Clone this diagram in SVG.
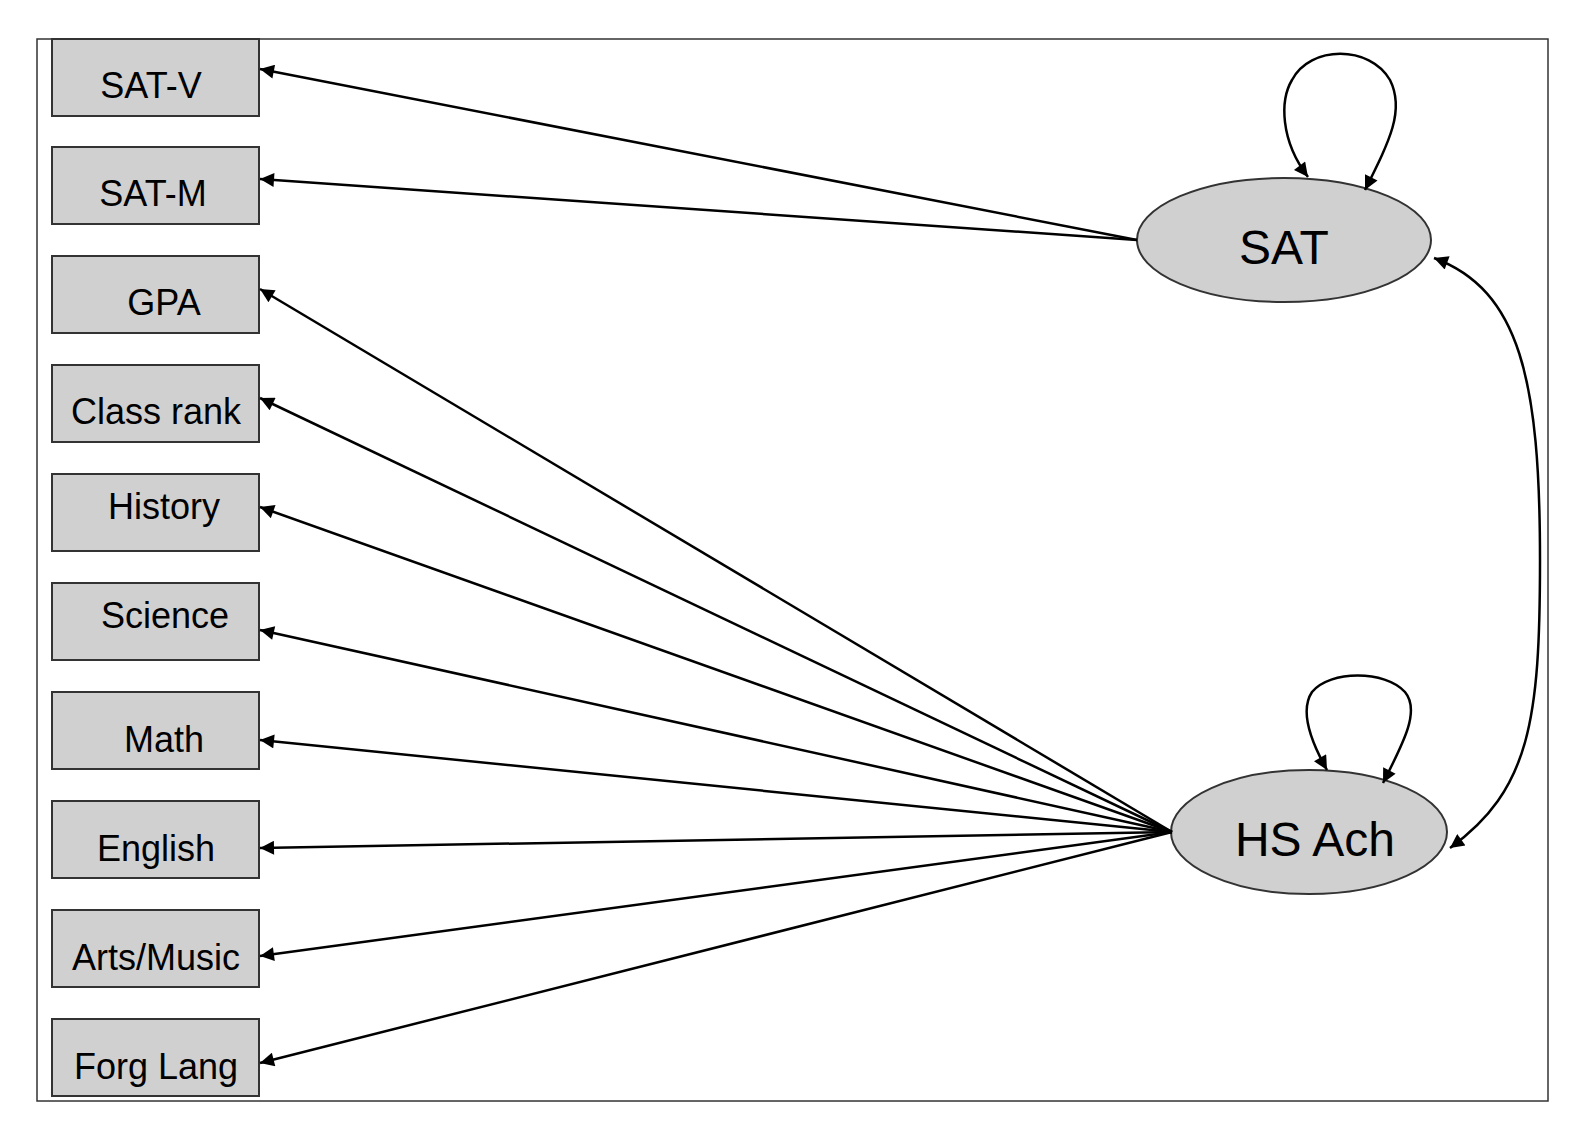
<svg xmlns="http://www.w3.org/2000/svg" width="1591" height="1131" viewBox="0 0 1591 1131">
<style>
.box{fill:#d0d0d0;stroke:#333;stroke-width:2}
.lbl{font-family:"Liberation Sans",Arial,sans-serif;font-size:36px;text-anchor:middle;fill:#000}
.big{font-family:"Liberation Sans",Arial,sans-serif;font-size:48px;text-anchor:middle;fill:#000}
.c{stroke:#000;stroke-width:2.5;fill:none}
</style>
<defs>
<marker id="ah2" viewBox="0 0 10 10" refX="10" refY="5" markerWidth="18" markerHeight="14" markerUnits="userSpaceOnUse" orient="auto-start-reverse"><path d="M0,0L10,5L0,10z" fill="#000"/></marker>
</defs>
<rect width="1591" height="1131" fill="#fff"/>
<rect x="37" y="39" width="1511" height="1062" fill="none" stroke="#333" stroke-width="1.5"/>
<g id="n1"><rect class="box" x="52" y="39" width="207" height="77"/><text class="lbl" x="151" y="98">SAT-V</text></g>
<g id="n2"><rect class="box" x="52" y="147" width="207" height="77"/><text class="lbl" x="153" y="206">SAT-M</text></g>
<g id="n3"><rect class="box" x="52" y="256" width="207" height="77"/><text class="lbl" x="164" y="315">GPA</text></g>
<g id="n4"><rect class="box" x="52" y="365" width="207" height="77"/><text class="lbl" x="156" y="424">Class rank</text></g>
<g id="n5"><rect class="box" x="52" y="474" width="207" height="77"/><text class="lbl" x="164" y="519">History</text></g>
<g id="n6"><rect class="box" x="52" y="583" width="207" height="77"/><text class="lbl" x="165" y="628">Science</text></g>
<g id="n7"><rect class="box" x="52" y="692" width="207" height="77"/><text class="lbl" x="164" y="752">Math</text></g>
<g id="n8"><rect class="box" x="52" y="801" width="207" height="77"/><text class="lbl" x="156" y="861">English</text></g>
<g id="n9"><rect class="box" x="52" y="910" width="207" height="77"/><text class="lbl" x="156" y="970">Arts/Music</text></g>
<g id="n10"><rect class="box" x="52" y="1019" width="207" height="77"/><text class="lbl" x="156" y="1079">Forg Lang</text></g>
<g id="sat"><ellipse class="box" cx="1284" cy="240" rx="147" ry="62"/><text class="big" x="1284" y="264">SAT</text></g>
<g id="hs"><ellipse class="box" cx="1309" cy="832" rx="138" ry="62"/><text class="big" x="1315" y="856">HS Ach</text></g>
<g id="connectors">
<path class="c" marker-end="url(#ah2)" d="M1137,240L260,69"/>
<path class="c" marker-end="url(#ah2)" d="M1137,240L260,179"/>
<path class="c" marker-end="url(#ah2)" d="M1172,832L260,289"/>
<path class="c" marker-end="url(#ah2)" d="M1172,832L260,398"/>
<path class="c" marker-end="url(#ah2)" d="M1172,832L260,507"/>
<path class="c" marker-end="url(#ah2)" d="M1172,832L260,630"/>
<path class="c" marker-end="url(#ah2)" d="M1172,832L260,740"/>
<path class="c" marker-end="url(#ah2)" d="M1172,832L260,848"/>
<path class="c" marker-end="url(#ah2)" d="M1172,832L260,956"/>
<path class="c" marker-end="url(#ah2)" d="M1172,832L260,1063"/>
<path class="c" marker-start="url(#ah2)" marker-end="url(#ah2)" d="M1308,177C1280,140 1280,100 1292,80C1310,45 1370,45 1390,80C1405,110 1390,140 1365,190"/>
<path class="c" marker-start="url(#ah2)" marker-end="url(#ah2)" d="M1327,770C1310,740 1300,710 1312,692C1330,670 1385,670 1405,692C1420,710 1405,740 1383,783"/>
<path class="c" marker-start="url(#ah2)" marker-end="url(#ah2)" d="M1434,258C1520,290 1540,380 1540,560C1540,720 1530,790 1450,848"/>
</g>
</svg>
